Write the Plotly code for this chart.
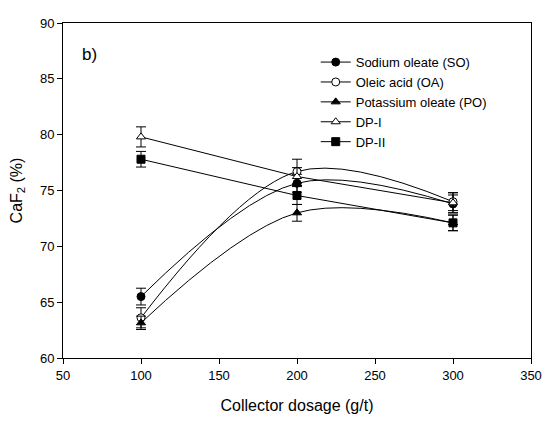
import plotly.graph_objects as go

dosage = [100, 200, 300]

so_vals = [65.5, 75.65, 73.8]
so_err = [0.75, 0.8, 0.8]
oa_vals = [63.6, 76.7, 74.0]
oa_err = [0.9, 1.1, 0.8]
po_vals = [63.15, 73.0, 72.1]
po_err = [0.6, 0.75, 0.7]
dp1_vals = [79.8, 76.25, 73.9]
dp1_err = [0.9, 0.8, 0.9]
dp2_vals = [77.8, 74.55, 72.1]
dp2_err = [0.7, 0.8, 0.7]

names = ["Sodium oleate (SO)", "Oleic acid (OA)", "Potassium oleate (PO)", "DP-I", "DP-II"]

series = [
    (names[0], so_vals, so_err, "circle", "black", "spline"),
    (names[1], oa_vals, oa_err, "circle", "white", "spline"),
    (names[2], po_vals, po_err, "triangle-up", "black", "spline"),
    (names[3], dp1_vals, dp1_err, "triangle-up", "white", "linear"),
    (names[4], dp2_vals, dp2_err, "square", "black", "linear"),
]

fig = go.Figure()
for name, vals, err, sym, fill, shape in series:
    fig.add_trace(go.Scatter(
        x=dosage, y=vals, name=name, mode="lines+markers",
        line=dict(color="black", width=1, shape=shape, smoothing=1.0),
        marker=dict(symbol=sym, size=8, color=fill, line=dict(color="black", width=1)),
        error_y=dict(type="data", array=err, visible=True, color="black", thickness=1, width=5),
    ))

fig.add_annotation(x=0.036, y=0.907, xref="paper", yref="paper", text="b)",
                   showarrow=False, font=dict(size=17, color="black"), xanchor="left", yanchor="middle")

axis_common = dict(showline=True, linecolor="black", linewidth=1, mirror=True,
                   ticks="outside", ticklen=5, tickcolor="black", showgrid=False,
                   zeroline=False, automargin=False, tickfont=dict(size=13, color="black"))

fig.update_layout(
    width=550, height=423,
    margin=dict(l=55, r=27, t=15, b=73),
    paper_bgcolor="white", plot_bgcolor="white",
    font=dict(family="Liberation Sans, Arial, sans-serif", color="black"),
    xaxis=dict(range=[50, 350], tickvals=[50, 100, 150, 200, 250, 300, 350],
               title=dict(text="Collector dosage (g/t)", font=dict(size=16), standoff=18),
               **axis_common),
    yaxis=dict(range=[60, 90], tickvals=[60, 65, 70, 75, 80, 85, 90],
               title=dict(text="CaF<sub>2</sub> (%)", font=dict(size=16), standoff=17),
               **axis_common),
    showlegend=True,
    legend=dict(x=0.54, y=0.928, xanchor="left", yanchor="top",
                bgcolor="rgba(0,0,0,0)", font=dict(size=13), tracegroupgap=0,
                itemwidth=30),
)

fig.write_html("out.html")
